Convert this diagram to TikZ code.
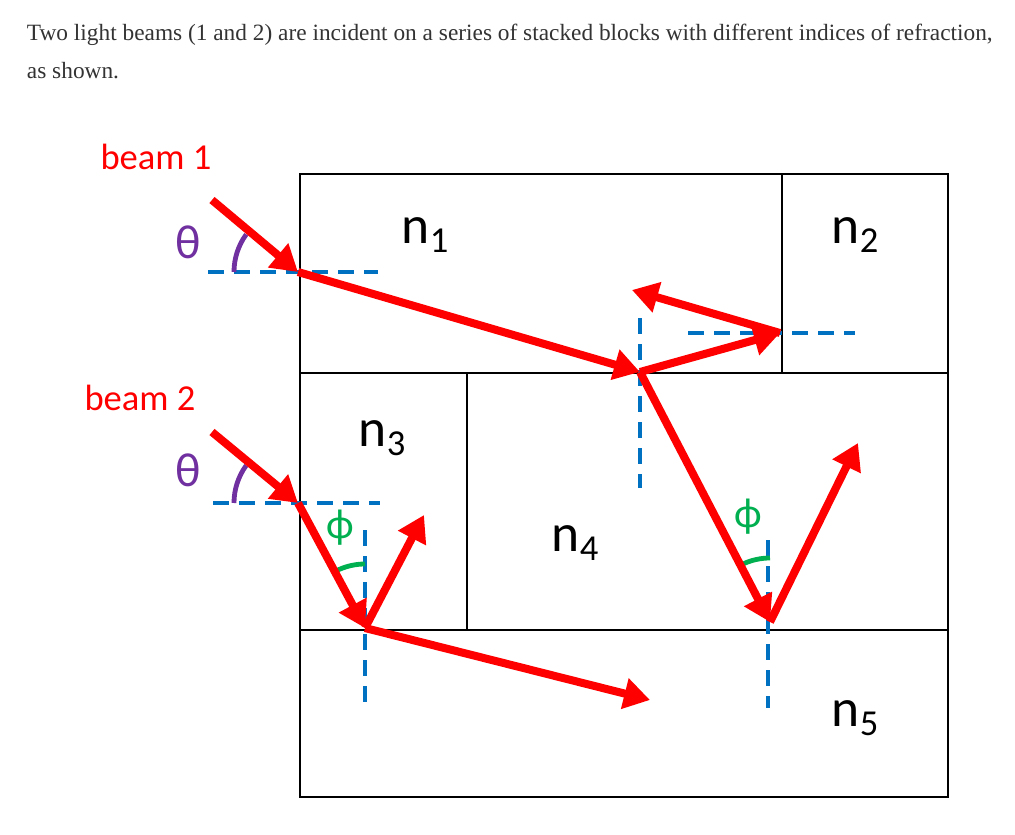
\documentclass[tikz,border=0pt]{standalone}
\usepackage{fontspec}
\setmainfont{Liberation Serif}
\newfontfamily\lab{Carlito}
\usetikzlibrary{arrows.meta}
\definecolor{myred}{RGB}{255,0,0}
\definecolor{myblue}{RGB}{0,112,192}
\definecolor{mypurple}{RGB}{112,48,160}
\definecolor{mygreen}{RGB}{0,176,80}
\newcommand{\nsub}[1]{n\raisebox{-0.35ex}{\fontsize{26}{30}\selectfont #1}}
\tikzset{
 rayarr/.style={myred,line width=0.2cm,-{Triangle[length=0.65cm,width=0.75cm]}},
 guide/.style={myblue,line width=0.08cm,dash pattern=on 0.4cm off 0.25cm},
 blk/.style={black,line width=0.05cm},
 lbl/.style={font=\lab\fontsize{26}{30}\selectfont},
 nlbl/.style={font=\lab\fontsize{38}{42}\selectfont},
}
\begin{document}
\begin{tikzpicture}[x=0.025cm,y=-0.025cm]
\useasboundingbox[fill=white] (0,0) rectangle (1015,835);
\node[anchor=west,text=black!80,font=\fontsize{16.6}{20}\selectfont] (t1) at (22,35) {Two light beams (1 and 2) are incident on a series of stacked blocks with different indices of refraction,};
\node[anchor=west,text=black!80,font=\fontsize{16.6}{20}\selectfont] (t2) at (22,71) {as shown.};
% blocks
\draw[blk] (300,174) rectangle (948,797);
\draw[blk] (300,373) -- (948,373);
\draw[blk] (300,630) -- (948,630);
\draw[blk] (782,174) -- (782,373);
\draw[blk] (467,373) -- (467,630);
% guides
\draw[guide] (208,272) -- (378,272);
\draw[guide] (213,503) -- (380,503);
\draw[guide] (640,318) -- (640,488);
\draw[guide] (365,530) -- (365,708);
\draw[guide] (768,540) -- (768,708);
\draw[guide] (688,333) -- (855,333);
% points
\coordinate (s1) at (212,200);
\coordinate (p1) at (298,272);
\coordinate (p2) at (640,372);
\coordinate (p3) at (780,333);
\coordinate (e3) at (632,290);
\coordinate (p4) at (770,622);
\coordinate (e4) at (858,443);
\coordinate (s2) at (212,432);
\coordinate (q1) at (298,503);
\coordinate (q2) at (365,628);
\coordinate (e5) at (424,515);
\coordinate (e6) at (650,700);
% angles
\draw[mypurple,line width=0.12cm] (p1) ++(180:64) arc[start angle=180,end angle=216,radius=64];
\draw[mypurple,line width=0.12cm] (q1) ++(180:64) arc[start angle=180,end angle=216,radius=64];
\draw[mygreen,line width=0.12cm] (q2) ++(270:64) arc[start angle=270,end angle=243,radius=64];
\draw[mygreen,line width=0.12cm] (p4) ++(270:64) arc[start angle=270,end angle=244,radius=64];
% rays
\draw[rayarr] (s1) -- (p1);
\draw[rayarr] (p1) -- (p2);
\draw[rayarr] (p2) -- (p3);
\draw[rayarr] (p3) -- (e3);
\draw[rayarr] (p2) -- (p4);
\draw[rayarr] (p4) -- (e4);
\draw[rayarr] (s2) -- (q1);
\draw[rayarr] (q1) -- (q2);
\draw[rayarr] (q2) -- (e5);
\draw[rayarr] (q2) -- (e6);
% labels
\node[lbl,text=myred] (b1) at (156,157) {beam 1};
\node[lbl,text=myred] (b2) at (140,398) {beam 2};
\node[lbl,text=mypurple,font=\lab\fontsize{34}{38}\selectfont] (th1) at (188,242) {θ};
\node[lbl,text=mypurple,font=\lab\fontsize{34}{38}\selectfont] (th2) at (188,470) {θ};
\node[lbl,text=mygreen,font=\lab\fontsize{30}{34}\selectfont] (ph1) at (340,528) {ϕ};
\node[lbl,text=mygreen,font=\lab\fontsize{30}{34}\selectfont] (ph2) at (748,517) {ϕ};
\node[nlbl] (n1) at (425,235) {\nsub{1}};
\node[nlbl] (n2) at (855,235) {\nsub{2}};
\node[nlbl] (n3) at (382,438) {\nsub{3}};
\node[nlbl] (n4) at (575,543) {\nsub{4}};
\node[nlbl] (n5) at (855,718) {\nsub{5}};
\end{tikzpicture}
\end{document}
